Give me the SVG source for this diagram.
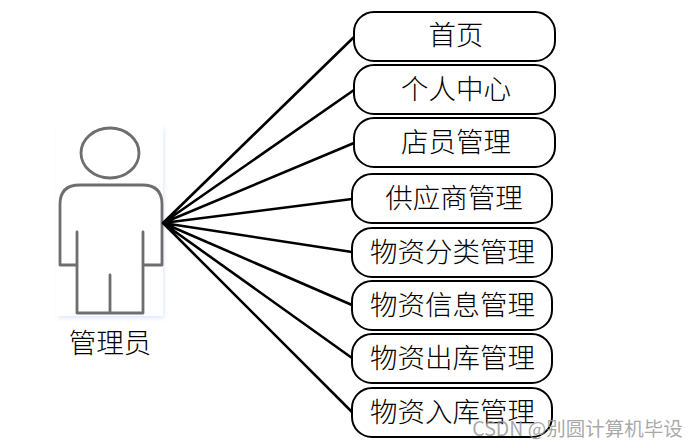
<svg xmlns="http://www.w3.org/2000/svg" width="699" height="448" viewBox="0 0 699 448">
<defs>
<filter id="blur" x="-20%" y="-20%" width="140%" height="140%"><feGaussianBlur stdDeviation="2"/></filter>
<filter id="soft" x="-5%" y="-5%" width="110%" height="110%"><feGaussianBlur stdDeviation="0.7"/></filter>
</defs>
<style>
text{font-family:"Noto Sans CJK SC",sans-serif;fill:#000;text-anchor:middle;font-weight:300}
.l{font-size:27.500px}
.b{fill:#fff;stroke:#000;stroke-width:2}
.c{fill:none;stroke:#000;stroke-width:2.600;stroke-linecap:round}
.p{fill:none;stroke:#6e6e6e;stroke-width:2.800;stroke-linejoin:round;stroke-linecap:round}
.w{font-size:19.500px;fill:#999;fill-opacity:.85;font-weight:400}
</style>
<rect width="699" height="448" fill="#fff"/>
<g id="actor">
<rect x="58" y="128" width="106" height="190" fill="#dbe8f8" filter="url(#blur)"/>
<rect x="56" y="124" width="107" height="192" fill="#fff"/>
<g filter="url(#soft)">
<ellipse class="p" cx="110" cy="153" rx="29" ry="25"/>
<path class="p" d="M77 232V313H143V232M77 265H60V204Q60 185 80 185H142Q162 185 162 204V265H143M110 275V313"/>
</g>
<text class="l" x="110" y="353">管理员</text>
</g>
<g id="connectors">
<path class="c" d="M163 223L354 37M163 223L354 90M163 223L354 143M163 223L352 199M163 223L352 252M163 223L352 305M163 223L352 358M163 223L352 412"/>
</g>
<g id="n1"><rect class="b" x="354" y="12" width="201" height="49" rx="20"/><text class="l" x="456" y="45">首页</text></g>
<g id="n2"><rect class="b" x="354" y="65" width="201" height="49" rx="20"/><text class="l" x="456" y="99">个人中心</text></g>
<g id="n3"><rect class="b" x="354" y="118" width="201" height="49" rx="20"/><text class="l" x="456" y="152">店员管理</text></g>
<g id="n4"><rect class="b" x="352" y="174" width="200" height="49" rx="20"/><text class="l" x="454" y="208">供应商管理</text></g>
<g id="n5"><rect class="b" x="352" y="228" width="200" height="49" rx="20"/><text class="l" x="452.500" y="262">物资分类管理</text></g>
<g id="n6"><rect class="b" x="352" y="281" width="200" height="49" rx="20"/><text class="l" x="452.500" y="315">物资信息管理</text></g>
<g id="n7"><rect class="b" x="352" y="334" width="200" height="49" rx="20"/><text class="l" x="452.500" y="368">物资出库管理</text></g>
<g id="n8"><rect class="b" x="352" y="388" width="200" height="49" rx="20"/><text class="l" x="452.500" y="422">物资入库管理</text></g>
<text class="w" x="577.500" y="436">CSDN @别圆计算机毕设</text>
</svg>
